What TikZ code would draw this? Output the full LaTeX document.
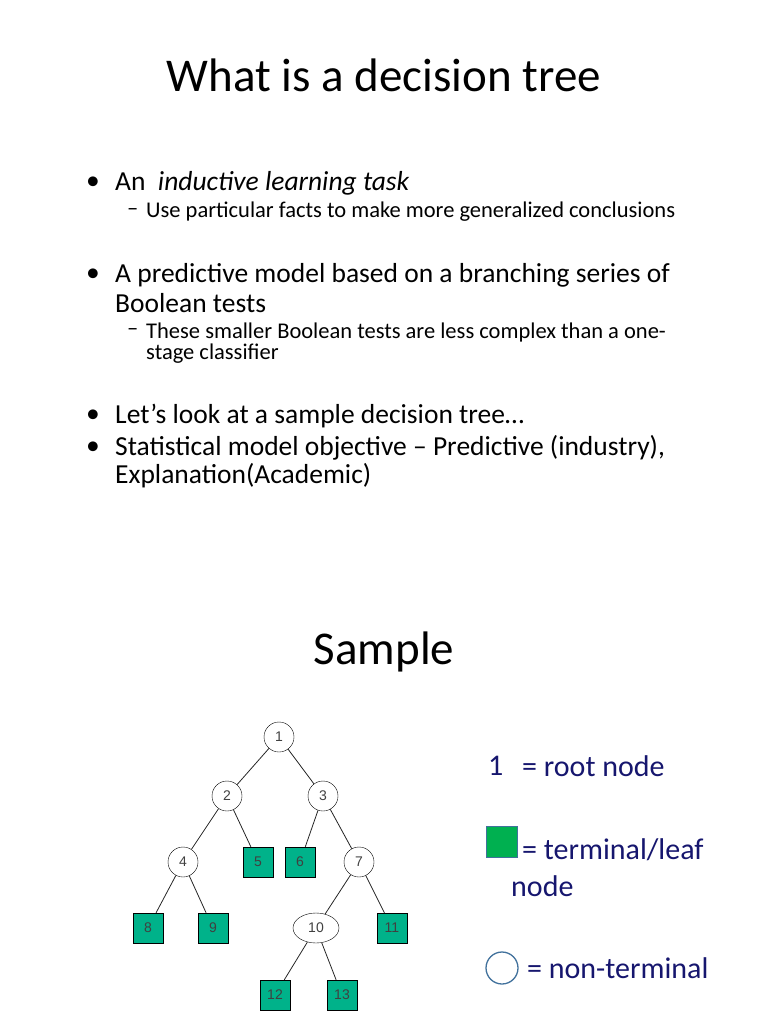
\documentclass[tikz,border=0pt]{standalone}
\usepackage{fontspec}
\setmainfont{Carlito}
\newfontfamily\arialf{Liberation Sans}
\usetikzlibrary{shapes.geometric}
\definecolor{leaf}{RGB}{0,178,138}
\definecolor{navy}{RGB}{22,22,110}
\definecolor{lgreen}{RGB}{0,176,80}
\definecolor{lblue}{RGB}{65,113,156}
\begin{document}
\begin{tikzpicture}[x=1pt,y=-1pt,
  txt/.style={anchor=west,inner sep=0pt,font=\fontsize{27.5}{32}\selectfont},
  sub/.style={anchor=west,inner sep=0pt,font=\fontsize{22.5}{26}\selectfont},
  ttl/.style={inner sep=0pt,font=\fontsize{47}{54}\selectfont},
  lbl/.style={font=\arialf\fontsize{14}{16}\selectfont,text=black!75},
  nt/.style={circle,draw,minimum size=30pt,inner sep=0pt,lbl},
  lf/.style={rectangle,draw,fill=leaf,minimum size=30pt,inner sep=0pt,lbl},
  edge/.style={draw=black!85,line width=0.8pt},
  leg/.style={anchor=west,inner sep=0pt,text=navy,font=\fontsize{30}{34}\selectfont}]
\useasboundingbox (0,0) rectangle (768,1024);
\node[ttl] (title) at (384,75) {What is a decision tree};
\node[txt] (b1d) at (86,183) {•};
\node[txt] (b1) at (115,183) {An \ \textit{inductive learning task}};
\node[sub] (s1d) at (127,212) {–};
\node[sub] (s1) at (146,212) {Use particular facts to make more generalized conclusions};
\node[txt] (b2d) at (86,275) {•};
\node[txt] (b2) at (115,275) {A predictive model based on a branching series of};
\node[txt] (b2b) at (115,303) {Boolean tests};
\node[sub] (s2d) at (127,332) {–};
\node[sub] (s2) at (146,332) {These smaller Boolean tests are less complex than a one-};
\node[sub] (s2b) at (146,354) {stage classifier};
\node[txt] (b3d) at (86,416) {•};
\node[txt] (b3) at (115,416) {Let’s look at a sample decision tree…};
\node[txt] (b4d) at (86,448) {•};
\node[txt] (b4) at (115,448) {Statistical model objective – Predictive (industry),};
\node[txt] (b4b) at (115,476) {Explanation(Academic)};
\node[ttl] (sample) at (384,652) {Sample};

\node[nt] (n1) at (279,737) {1};
\node[nt] (n2) at (227,796) {2};
\node[nt] (n3) at (323,796) {3};
\node[nt] (n4) at (183,862) {4};
\node[lf] (n5) at (258,862) {5};
\node[lf] (n6) at (300,862) {6};
\node[nt] (n7) at (359,862) {7};
\node[lf] (n8) at (148,928) {8};
\node[lf] (n9) at (213,928) {9};
\node[ellipse,draw,minimum width=46pt,minimum height=30pt,inner sep=0pt,lbl] (n10) at (316,928) {10};
\node[lf] (n11) at (392,928) {11};
\node[lf] (n12) at (275,995) {12};
\node[lf] (n13) at (342,995) {13};
\foreach \a/\b in {n1/n2,n1/n3,n2/n4,n2/n5,n3/n6,n3/n7,n4/n8,n4/n9,n7/n10,n7/n11,n10/n12,n10/n13}
  \draw[edge] (\a) -- (\b);

\node[leg] (l1) at (488,766) {1};
\node[leg] (l1b) at (522,766) {= root node};
\node[rectangle,draw=lblue,line width=1pt,fill=lgreen,minimum size=31pt,inner sep=0pt] (lsq) at (501.5,842) {};
\node[leg] (l2) at (522,850) {= terminal/leaf};
\node[leg] (l2b) at (511,886) {node};
\node[circle,draw=lblue,line width=1.3pt,minimum size=32pt,inner sep=0pt] (lci) at (502,968) {};
\node[leg] (l3) at (527,968) {= non-terminal};
\end{tikzpicture}
\end{document}
